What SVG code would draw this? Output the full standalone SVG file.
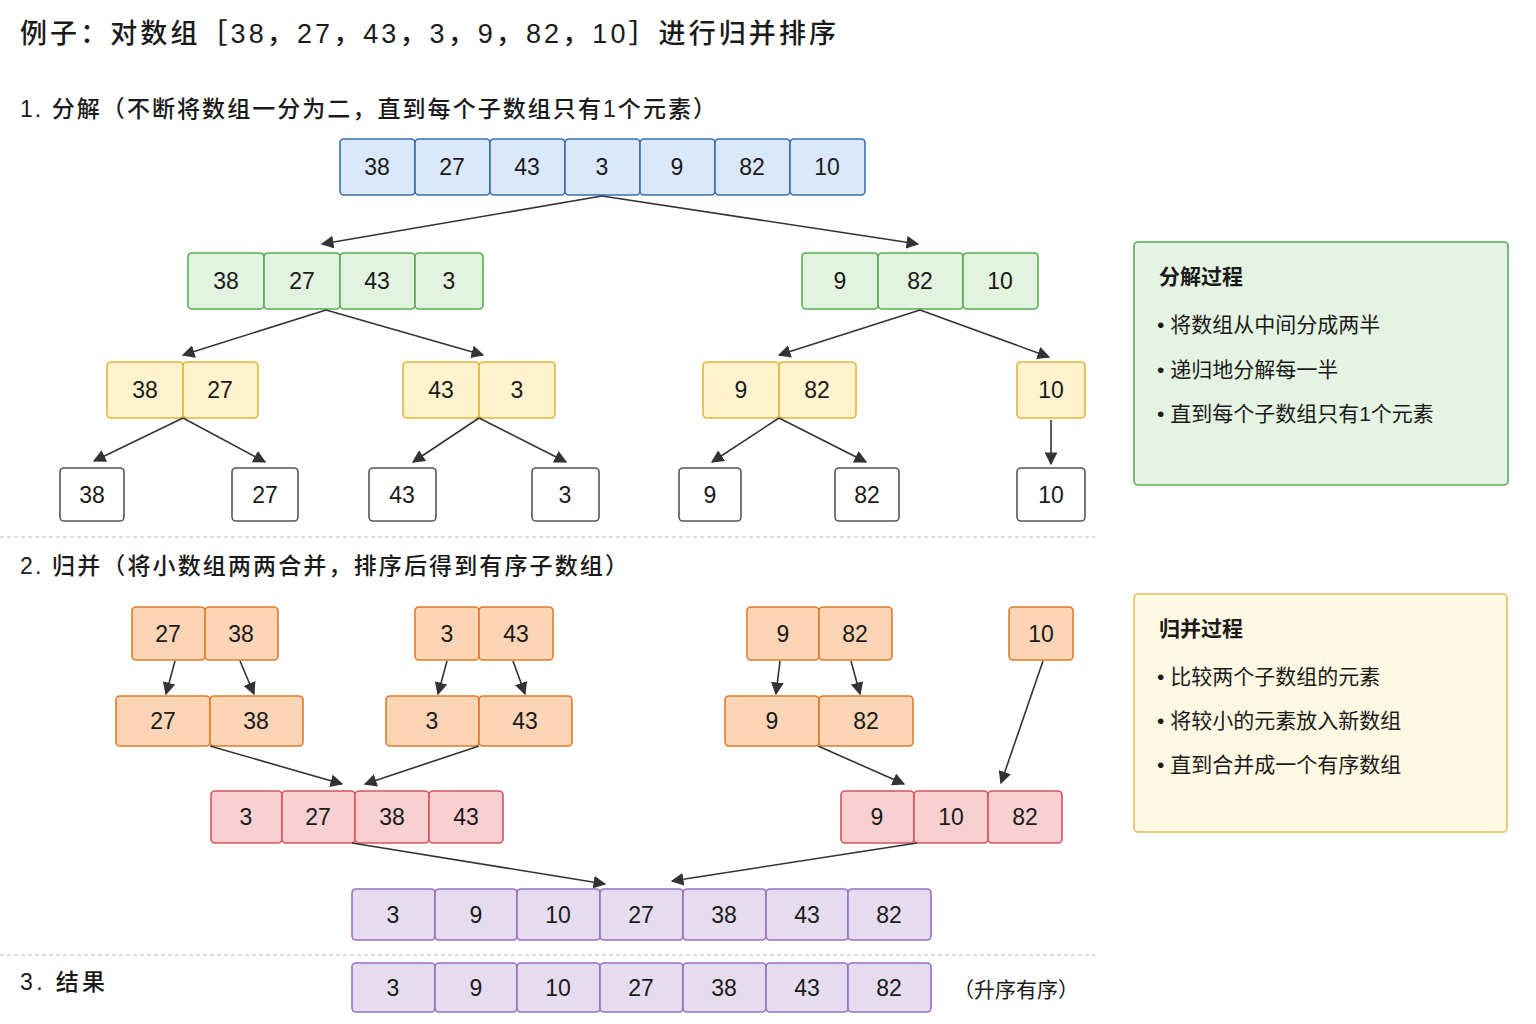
<svg xmlns="http://www.w3.org/2000/svg" width="1536" height="1024" viewBox="0 0 1536 1024">
<style>
text{font-family:"Liberation Sans","Noto Sans CJK SC",sans-serif;fill:#1a1a1a}
.n{font-size:23px;text-anchor:middle;dominant-baseline:central}
.h{font-size:23px;font-weight:500}
.t{font-size:21px}
.b{stroke-width:1.6}
.bl{fill:#dae8fc;stroke:#3a6fb0}
.gr{fill:#e2f3df;stroke:#58ad55}
.ye{fill:#fff2cc;stroke:#e3b53a}
.gy{fill:#fff;stroke:#555}
.or{fill:#fbd5b5;stroke:#e07b2a}
.rd{fill:#f8d0d2;stroke:#d9545b}
.pu{fill:#e6dcf0;stroke:#9a6fc0}
#edges line{stroke:#333;stroke-width:1.6;marker-end:url(#a)}
</style>
<defs><marker id="a" viewBox="0 0 10 10" refX="9" refY="5" markerWidth="8" markerHeight="8" orient="auto"><path d="M0,0L10,5L0,10z" fill="#333"/></marker></defs>
<rect width="1536" height="1024" fill="#fff"/>
<text x="20" y="43" style="font-size:27px;font-weight:500" textLength="816" lengthAdjust="spacing">例子：对数组［38，27，43，3，9，82，10］进行归并排序</text>
<text x="20" y="117" class="h" textLength="696" lengthAdjust="spacing">1. 分解（不断将数组一分为二，直到每个子数组只有1个元素）</text>
<text x="20" y="574" class="h" textLength="608" lengthAdjust="spacing">2. 归并（将小数组两两合并，排序后得到有序子数组）</text>
<text x="20" y="990" class="h" textLength="85" lengthAdjust="spacing">3. 结果</text>
<text x="953" y="997" class="t">（升序有序）</text>
<line x1="0" y1="537" x2="1095" y2="537" stroke="#bbb" stroke-dasharray="4 3"/>
<line x1="0" y1="955" x2="1095" y2="955" stroke="#bbb" stroke-dasharray="4 3"/>

<g id="r1" class="b">
<rect class="bl" x="340" y="139" width="75" height="56" rx="4"/><text class="n" x="377" y="167">38</text>
<rect class="bl" x="415" y="139" width="75" height="56" rx="4"/><text class="n" x="452" y="167">27</text>
<rect class="bl" x="490" y="139" width="75" height="56" rx="4"/><text class="n" x="527" y="167">43</text>
<rect class="bl" x="565" y="139" width="75" height="56" rx="4"/><text class="n" x="602" y="167">3</text>
<rect class="bl" x="640" y="139" width="75" height="56" rx="4"/><text class="n" x="677" y="167">9</text>
<rect class="bl" x="715" y="139" width="75" height="56" rx="4"/><text class="n" x="752" y="167">82</text>
<rect class="bl" x="790" y="139" width="75" height="56" rx="4"/><text class="n" x="827" y="167">10</text>
</g>
<g id="r2l" class="b">
<rect class="gr" x="188" y="253" width="76" height="56" rx="4"/><text class="n" x="226" y="281">38</text>
<rect class="gr" x="264" y="253" width="76" height="56" rx="4"/><text class="n" x="302" y="281">27</text>
<rect class="gr" x="340" y="253" width="75" height="56" rx="4"/><text class="n" x="377" y="281">43</text>
<rect class="gr" x="415" y="253" width="68" height="56" rx="4"/><text class="n" x="449" y="281">3</text>
</g>
<g id="r2r" class="b">
<rect class="gr" x="802" y="253" width="76" height="56" rx="4"/><text class="n" x="840" y="281">9</text>
<rect class="gr" x="878" y="253" width="85" height="56" rx="4"/><text class="n" x="920" y="281">82</text>
<rect class="gr" x="963" y="253" width="75" height="56" rx="4"/><text class="n" x="1000" y="281">10</text>
</g>
<g id="r3" class="b">
<rect class="ye" x="107" y="362" width="76" height="56" rx="4"/><text class="n" x="145" y="390">38</text>
<rect class="ye" x="183" y="362" width="75" height="56" rx="4"/><text class="n" x="220" y="390">27</text>
<rect class="ye" x="403" y="362" width="76" height="56" rx="4"/><text class="n" x="441" y="390">43</text>
<rect class="ye" x="479" y="362" width="76" height="56" rx="4"/><text class="n" x="517" y="390">3</text>
<rect class="ye" x="703" y="362" width="76" height="56" rx="4"/><text class="n" x="741" y="390">9</text>
<rect class="ye" x="779" y="362" width="77" height="56" rx="4"/><text class="n" x="817" y="390">82</text>
<rect class="ye" x="1017" y="362" width="68" height="56" rx="4"/><text class="n" x="1051" y="390">10</text>
</g>
<g id="r4" class="b">
<rect class="gy" x="60" y="468" width="64" height="53" rx="4"/><text class="n" x="92" y="495">38</text>
<rect class="gy" x="232" y="468" width="66" height="53" rx="4"/><text class="n" x="265" y="495">27</text>
<rect class="gy" x="369" y="468" width="67" height="53" rx="4"/><text class="n" x="402" y="495">43</text>
<rect class="gy" x="532" y="468" width="67" height="53" rx="4"/><text class="n" x="565" y="495">3</text>
<rect class="gy" x="679" y="468" width="62" height="53" rx="4"/><text class="n" x="710" y="495">9</text>
<rect class="gy" x="835" y="468" width="64" height="53" rx="4"/><text class="n" x="867" y="495">82</text>
<rect class="gy" x="1017" y="468" width="68" height="53" rx="4"/><text class="n" x="1051" y="495">10</text>
</g>
<g id="m1" class="b">
<rect class="or" x="132" y="607" width="73" height="53" rx="4"/><text class="n" x="168" y="634">27</text>
<rect class="or" x="205" y="607" width="73" height="53" rx="4"/><text class="n" x="241" y="634">38</text>
<rect class="or" x="415" y="607" width="64" height="53" rx="4"/><text class="n" x="447" y="634">3</text>
<rect class="or" x="479" y="607" width="74" height="53" rx="4"/><text class="n" x="516" y="634">43</text>
<rect class="or" x="747" y="607" width="72" height="53" rx="4"/><text class="n" x="783" y="634">9</text>
<rect class="or" x="819" y="607" width="73" height="53" rx="4"/><text class="n" x="855" y="634">82</text>
<rect class="or" x="1009" y="607" width="64" height="53" rx="4"/><text class="n" x="1041" y="634">10</text>
</g>
<g id="m2" class="b">
<rect class="or" x="116" y="696" width="94" height="50" rx="4"/><text class="n" x="163" y="721">27</text>
<rect class="or" x="210" y="696" width="93" height="50" rx="4"/><text class="n" x="256" y="721">38</text>
<rect class="or" x="386" y="696" width="93" height="50" rx="4"/><text class="n" x="432" y="721">3</text>
<rect class="or" x="479" y="696" width="93" height="50" rx="4"/><text class="n" x="525" y="721">43</text>
<rect class="or" x="725" y="696" width="94" height="50" rx="4"/><text class="n" x="772" y="721">9</text>
<rect class="or" x="819" y="696" width="94" height="50" rx="4"/><text class="n" x="866" y="721">82</text>
</g>
<g id="m3" class="b">
<rect class="rd" x="211" y="791" width="71" height="52" rx="4"/><text class="n" x="246" y="817">3</text>
<rect class="rd" x="282" y="791" width="73" height="52" rx="4"/><text class="n" x="318" y="817">27</text>
<rect class="rd" x="355" y="791" width="74" height="52" rx="4"/><text class="n" x="392" y="817">38</text>
<rect class="rd" x="429" y="791" width="74" height="52" rx="4"/><text class="n" x="466" y="817">43</text>
<rect class="rd" x="841" y="791" width="73" height="52" rx="4"/><text class="n" x="877" y="817">9</text>
<rect class="rd" x="914" y="791" width="74" height="52" rx="4"/><text class="n" x="951" y="817">10</text>
<rect class="rd" x="988" y="791" width="74" height="52" rx="4"/><text class="n" x="1025" y="817">82</text>
</g>
<g id="m4" class="b">
<rect class="pu" x="352" y="889" width="83" height="51" rx="4"/><text class="n" x="393" y="915">3</text>
<rect class="pu" x="435" y="889" width="82" height="51" rx="4"/><text class="n" x="476" y="915">9</text>
<rect class="pu" x="517" y="889" width="83" height="51" rx="4"/><text class="n" x="558" y="915">10</text>
<rect class="pu" x="600" y="889" width="83" height="51" rx="4"/><text class="n" x="641" y="915">27</text>
<rect class="pu" x="683" y="889" width="83" height="51" rx="4"/><text class="n" x="724" y="915">38</text>
<rect class="pu" x="766" y="889" width="82" height="51" rx="4"/><text class="n" x="807" y="915">43</text>
<rect class="pu" x="848" y="889" width="83" height="51" rx="4"/><text class="n" x="889" y="915">82</text>
</g>
<g id="res" class="b">
<rect class="pu" x="352" y="963" width="83" height="49" rx="4"/><text class="n" x="393" y="988">3</text>
<rect class="pu" x="435" y="963" width="82" height="49" rx="4"/><text class="n" x="476" y="988">9</text>
<rect class="pu" x="517" y="963" width="83" height="49" rx="4"/><text class="n" x="558" y="988">10</text>
<rect class="pu" x="600" y="963" width="83" height="49" rx="4"/><text class="n" x="641" y="988">27</text>
<rect class="pu" x="683" y="963" width="83" height="49" rx="4"/><text class="n" x="724" y="988">38</text>
<rect class="pu" x="766" y="963" width="82" height="49" rx="4"/><text class="n" x="807" y="988">43</text>
<rect class="pu" x="848" y="963" width="83" height="49" rx="4"/><text class="n" x="889" y="988">82</text>
</g>
<g id="side1">
<rect x="1134" y="242" width="374" height="243" rx="4" fill="#e5f3e2" stroke="#58ad55" stroke-width="1.6"/>
<text x="1159" y="284" class="t" font-weight="bold">分解过程</text>
<text x="1157" y="332" class="t">• 将数组从中间分成两半</text>
<text x="1157" y="377" class="t">• 递归地分解每一半</text>
<text x="1157" y="421" class="t">• 直到每个子数组只有1个元素</text>
</g>
<g id="side2">
<rect x="1134" y="594" width="373" height="238" rx="4" fill="#fff8e3" stroke="#e8bf5a" stroke-width="1.6"/>
<text x="1159" y="636" class="t" font-weight="bold">归并过程</text>
<text x="1157" y="684" class="t">• 比较两个子数组的元素</text>
<text x="1157" y="728" class="t">• 将较小的元素放入新数组</text>
<text x="1157" y="772" class="t">• 直到合并成一个有序数组</text>
</g>
<g id="edges">
<line x1="602" y1="196" x2="322" y2="244"/><line x1="602" y1="196" x2="918" y2="244"/>
<line x1="326" y1="310" x2="183" y2="355"/><line x1="326" y1="310" x2="483" y2="355"/>
<line x1="920" y1="310" x2="779" y2="355"/><line x1="920" y1="310" x2="1049" y2="357"/>
<line x1="183" y1="418" x2="94" y2="461"/><line x1="183" y1="418" x2="265" y2="462"/>
<line x1="479" y1="418" x2="413" y2="462"/><line x1="479" y1="418" x2="566" y2="462"/>
<line x1="779" y1="418" x2="712" y2="462"/><line x1="779" y1="418" x2="866" y2="462"/>
<line x1="1051" y1="420" x2="1051" y2="464"/>
<line x1="175" y1="661" x2="166" y2="694"/><line x1="240" y1="661" x2="254" y2="694"/>
<line x1="447" y1="661" x2="438" y2="694"/><line x1="513" y1="661" x2="525" y2="694"/>
<line x1="780" y1="661" x2="776" y2="694"/><line x1="851" y1="661" x2="860" y2="694"/>
<line x1="1043" y1="661" x2="1001" y2="783"/>
<line x1="210" y1="746" x2="342" y2="784"/><line x1="479" y1="746" x2="365" y2="784"/>
<line x1="818" y1="746" x2="904" y2="784"/>
<line x1="352" y1="843" x2="605" y2="884"/><line x1="917" y1="843" x2="672" y2="881"/>
</g>
</svg>
